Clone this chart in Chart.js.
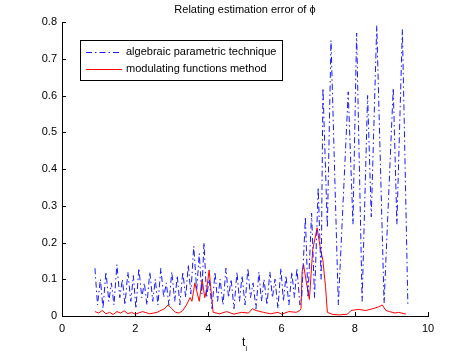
<!DOCTYPE html>
<html><head><meta charset="utf-8">
<script src="https://cdn.jsdelivr.net/npm/chart.js@4.4.0/dist/chart.umd.min.js"></script>
<style>html,body{margin:0;padding:0;background:#fff}#wrap{width:474px;height:355px}</style>
</head><body><div id="wrap"><canvas id="c" width="474" height="355"></canvas></div>
<script>
const titleText = "Relating estimation error of \u03d5";
const xLabelMain = "t";
const xLabelSub = "i";
const xTicks = [0, 2, 4, 6, 8, 10];
const yTicks = [0, 0.1, 0.2, 0.3, 0.4, 0.5, 0.6, 0.7, 0.8];
const seriesNames = ["algebraic parametric technique", "modulating functions method"];

const tBlue = [0.90,0.97,1.05,1.12,1.20,1.28,1.35,1.42,1.50,1.58,1.65,1.72,1.80,1.88,1.95,2.02,2.10,2.18,2.25,2.32,2.40,2.48,2.55,2.62,2.70,2.78,2.85,2.92,3.00,3.08,3.15,3.22,3.30,3.38,3.45,3.52,3.60,3.68,3.75,3.82,3.88,3.95,4.02,4.10,4.18,4.25,4.32,4.40,4.48,4.55,4.62,4.70,4.78,4.85,4.92,5.00,5.08,5.15,5.22,5.30,5.38,5.45,5.52,5.60,5.68,5.75,5.82,5.90,5.98,6.05,6.12,6.20,6.28,6.35,6.42,6.50,
  6.55,6.65,6.72,6.82,6.90,7.00,7.08,7.13,7.25,7.35,7.55,7.82,7.95,8.05,8.20,8.35,8.45,8.60,8.80,9.05,9.15,9.30,9.45];
const vBlue = [0.13,0.03,0.10,0.02,0.12,0.04,0.09,0.03,0.14,0.05,0.10,0.03,0.12,0.04,0.11,0.02,0.13,0.05,0.09,0.03,0.12,0.04,0.10,0.03,0.13,0.05,0.09,0.03,0.12,0.04,0.11,0.03,0.12,0.05,0.14,0.06,0.19,0.07,0.17,0.06,0.20,0.05,0.10,0.02,0.12,0.04,0.10,0.03,0.13,0.05,0.10,0.02,0.12,0.04,0.11,0.03,0.13,0.05,0.09,0.02,0.12,0.04,0.10,0.03,0.12,0.05,0.10,0.02,0.13,0.04,0.11,0.03,0.12,0.05,0.13,0.03,
  0.05,0.27,0.05,0.28,0.05,0.35,0.10,0.62,0.24,0.75,0.03,0.61,0.25,0.77,0.04,0.60,0.27,0.79,0.035,0.62,0.25,0.78,0.03];

const tRed = [0.90,1.00,1.10,1.20,1.30,1.40,1.50,1.60,1.70,1.80,1.90,2.00,2.20,2.40,2.60,2.80,2.90,3.00,3.10,3.20,3.30,3.40,3.50,3.55,3.63,3.70,3.75,3.83,3.90,3.95,4.02,4.08,4.13,4.30,4.50,4.70,4.90,5.10,5.20,5.30,5.50,5.70,5.90,6.00,6.20,6.40,6.50,6.53,6.56,6.60,6.68,6.76,6.85,6.97,7.05,7.13,7.20,7.25,7.40,7.60,7.80,7.90,8.10,8.30,8.50,8.65,8.75,8.85,8.95,9.10,9.20,9.40];
const vRed = [0.012,0.008,0.015,0.006,0.010,0.004,0.012,0.008,0.014,0.006,0.010,0.005,0.012,0.006,0.010,0.020,0.030,0.020,0.010,0.008,0.015,0.030,0.050,0.040,0.090,0.060,0.040,0.100,0.050,0.070,0.125,0.060,0.010,0.006,0.012,0.005,0.010,0.008,0.020,0.015,0.010,0.006,0.010,0.005,0.012,0.010,0.015,0.020,0.120,0.140,0.090,0.045,0.180,0.240,0.190,0.150,0.080,0.010,0.004,0.003,0.005,0.015,0.018,0.015,0.020,0.025,0.030,0.015,0.012,0.008,0.010,0.005];

const FONT = "'Liberation Sans', Arial, Helvetica, sans-serif";

const decor = {
  id: 'decor',
  afterDraw(chart) {
    const ctx = chart.ctx, xs = chart.scales.x, ys = chart.scales.y, ca = chart.chartArea;
    ctx.save();
    // inside ticks
    ctx.strokeStyle = '#000'; ctx.lineWidth = 1;
    ctx.beginPath();
    xTicks.forEach(v => { const p = Math.round(xs.getPixelForValue(v)) + 0.5; ctx.moveTo(p, ca.bottom); ctx.lineTo(p, ca.bottom - 4); });
    yTicks.forEach(v => { const p = Math.round(ys.getPixelForValue(v)) + 0.5; ctx.moveTo(ca.left, p); ctx.lineTo(ca.left + 4, p); });
    ctx.stroke();
    // title
    ctx.fillStyle = '#000';
    ctx.font = '11px ' + FONT;
    ctx.textAlign = 'center'; ctx.textBaseline = 'middle';
    ctx.fillText(titleText, (ca.left + ca.right) / 2, 10);
    // x label with subscript
    ctx.font = '12px ' + FONT;
    ctx.textAlign = 'left'; ctx.textBaseline = 'alphabetic';
    const cx = (ca.left + ca.right) / 2 - 3;
    ctx.fillText(xLabelMain, cx, 346);
    ctx.font = '7px ' + FONT;
    ctx.fillText(xLabelSub, cx + 3.5, 351);
    // legend
    const lx = 80, ly = 40, lw = 202, lh = 40;
    ctx.fillStyle = '#fff';
    ctx.fillRect(lx, ly, lw, lh);
    ctx.strokeStyle = '#000'; ctx.lineWidth = 1;
    ctx.strokeRect(lx + 0.5, ly + 0.5, lw, lh);
    const ds = chart.data.datasets;
    ctx.font = '11px ' + FONT; ctx.textBaseline = 'middle'; ctx.fillStyle = '#000';
    [0, 1].forEach(i => {
      const y = ly + 12 + i * 16.5;
      ctx.save();
      ctx.strokeStyle = ds[i].borderColor; ctx.lineWidth = 1;
      ctx.setLineDash(ds[i].borderDash || []);
      ctx.beginPath(); ctx.moveTo(lx + 6, Math.round(y) + 0.5); ctx.lineTo(lx + 42, Math.round(y) + 0.5); ctx.stroke();
      ctx.restore();
      ctx.fillStyle = '#000';
      ctx.fillText(seriesNames[i], lx + 46, y);
    });
    ctx.restore();
  }
};

new Chart(document.getElementById('c'), {
  type: 'line',
  data: {
    datasets: [
      { label: seriesNames[0], data: tBlue.map((t, i) => ({x: t, y: vBlue[i]})), borderColor: '#1a1aff', borderWidth: 1, borderDash: [6, 3, 1.5, 3], pointRadius: 0, tension: 0, fill: false },
      { label: seriesNames[1], data: tRed.map((t, i) => ({x: t, y: vRed[i]})), borderColor: '#ff0000', borderWidth: 1, pointRadius: 0, tension: 0, fill: false }
    ]
  },
  options: {
    responsive: false, animation: false, devicePixelRatio: 1,
    layout: { padding: { left: 0, top: 22, right: 46, bottom: 0 } },
    plugins: { legend: { display: false }, title: { display: false }, tooltip: { enabled: false } },
    scales: {
      x: {
        type: 'linear', min: 0, max: 10,
        afterBuildTicks(s) { s.ticks = xTicks.map(v => ({value: v})); },
        afterFit(s) { s.height = 39; },
        grid: { display: false, drawTicks: false },
        border: { display: true, color: '#000', width: 1 },
        ticks: { color: '#000', font: { family: FONT, size: 11 }, padding: 6, maxRotation: 0, callback: v => String(v) }
      },
      y: {
        type: 'linear', min: 0, max: 0.8,
        afterBuildTicks(s) { s.ticks = yTicks.map(v => ({value: v})); },
        afterFit(s) { s.width = 62; },
        grid: { display: false, drawTicks: false },
        border: { display: true, color: '#000', width: 1 },
        ticks: { color: '#000', font: { family: FONT, size: 11 }, padding: 5, callback: v => String(Math.round(v * 10) / 10) }
      }
    }
  },
  plugins: [decor]
});
</script>
</body></html>
